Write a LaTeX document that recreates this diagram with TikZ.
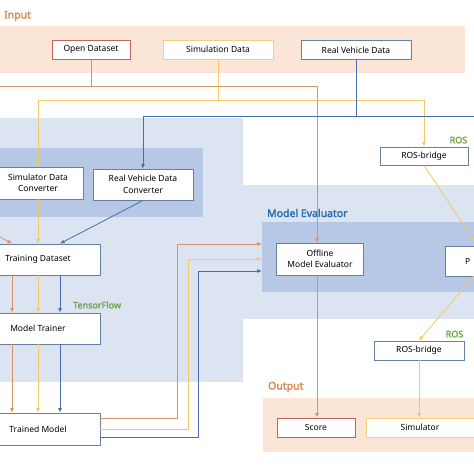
\documentclass[tikz,border=0pt]{standalone}
\usepackage{fontspec}
\setmainfont{Noto Sans}[BoldFont={Noto Sans}, BoldFeatures={FakeBold=2.5}]
\usetikzlibrary{arrows.meta, positioning}

\definecolor{bandpeach}{RGB}{250,229,214}
\definecolor{regionlight}{RGB}{220,228,242}
\definecolor{regiondark}{RGB}{182,200,230}
\definecolor{lineorange}{RGB}{214,146,106}
\definecolor{lineyellow}{RGB}{244,200,100}
\definecolor{lineblue}{RGB}{72,108,178}
\definecolor{boxred}{RGB}{196,96,96}
\definecolor{boxyellow}{RGB}{244,208,120}
\definecolor{boxblue}{RGB}{100,130,160}
\definecolor{titleorange}{RGB}{214,140,80}
\definecolor{titleblue}{RGB}{46,110,180}
\definecolor{titlegreen}{RGB}{112,168,80}

\begin{document}
\begin{tikzpicture}[x=1pt, y=-1pt, font=\fontsize{8.5}{11.5}\selectfont]
    \tikzstyle{region} = [rectangle, fill=regionlight, draw=none, inner sep=0pt]
    \tikzstyle{subregion} = [rectangle, fill=regiondark, draw=none, inner sep=0pt]
    \tikzstyle{inputband} = [rectangle, fill=bandpeach, draw=none, inner sep=0pt]
    \tikzstyle{datasource} = [rectangle, draw, fill=white, line width=0.9pt, minimum width=78pt, minimum height=19pt, text centered, inner sep=1pt]
    \tikzstyle{process} = [rectangle, draw=boxblue, fill=white, line width=0.9pt, minimum height=31pt, text centered, align=center, inner sep=1pt]
    \tikzstyle{grouptitle} = [font=\fontsize{10.5}{12}\selectfont\bfseries, anchor=west, inner sep=0pt]
    \tikzstyle{toollabel} = [font=\fontsize{9}{10}\selectfont\bfseries, text=titlegreen, inner sep=1pt]
    \tikzstyle{wire} = [line width=0.8pt]
    \tikzstyle{arrow} = [line width=0.8pt, -{Latex[length=4.5pt, width=4pt]}]

    \useasboundingbox (0,0) rectangle (474,474);
    \fill[white] (0,0) rectangle (474,474);
    \clip (0,0) rectangle (474,474);

    % Groups
    \node (trainregion) [region, minimum width=253pt, minimum height=264pt] at (116.5,250) {};
    \node (evalregion) [region, minimum width=242pt, minimum height=134pt] at (364,252) {};
    \node (convsub) [subregion, minimum width=213pt, minimum height=69pt] at (96.5,182.5) {};
    \node (evalsub) [subregion, minimum width=223pt, minimum height=70pt] at (373.5,257) {};
    \node (inband) [inputband, minimum width=470pt, minimum height=47pt] at (230,49.5) {};
    \node (outband) [inputband, minimum width=222pt, minimum height=54pt] at (374,425) {};

    \node (inputlabel) [grouptitle, text=titleorange] at (4,16) {Input};
    \node (outputlabel) [grouptitle, text=titleorange] at (268,387) {Output};
    \node (evallabel) [grouptitle, text=titleblue] at (267,213) {Model Evaluator};

    % Boxes
    \node (opendata) [datasource, draw=boxred] at (91,49.5) {Open Dataset};
    \node (simdata) [datasource, draw=boxyellow, minimum width=110pt] at (218,49.5) {Simulation Data};
    \node (realdata) [datasource, draw=boxblue, minimum width=110pt] at (356,50) {Real Vehicle Data};
    \node (simconv) [process, minimum width=90pt, minimum height=32pt] at (38,183) {Simulator Data\\Converter};
    \node (realconv) [process, minimum width=100pt] at (143,184.5) {Real Vehicle Data\\Converter};
    \node (training) [process, minimum width=124pt] at (38,259.5) {Training Dataset};
    \node (trainer) [process, minimum width=124pt] at (38,328.5) {Model Trainer};
    \node (trained) [process, minimum width=124pt, minimum height=32pt] at (38,429) {Trained Model};
    \node (offline) [process, minimum width=87pt, minimum height=32pt] at (320,259) {Offline\\Model Evaluator};
    \node (planner) [process, text width=60pt, inner xsep=20pt, align=left, minimum height=30pt] at (495,261) {P};
    \node (rostop) [process, minimum width=88pt, minimum height=18pt] at (424,156) {ROS-bridge};
    \node (rosbottom) [process, minimum width=90pt, minimum height=19pt] at (419,350.5) {ROS-bridge};
    \node (score) [datasource, draw=boxred] at (316,427.5) {Score};
    \node (simulator) [datasource, draw=boxyellow, minimum width=108pt] at (420,427.5) {Simulator};

    \node (tflabel) [toollabel, anchor=west] at (72,305) {TensorFlow};
    \node (roslabeltop) [toollabel, anchor=south east, yshift=2pt] at (rostop.north east) {ROS};
    \node (roslabelbottom) [toollabel, anchor=south east, yshift=2pt] at (rosbottom.north east) {ROS};

    \coordinate (xo) at (12,0);
    \coordinate (xb) at (60,0);
    \coordinate (xev) at (317,0);
    \path (opendata.south) ++(0,27) coordinate (osplit);
    \path (simdata.south) ++(0,41) coordinate (ysplit);
    \path (realdata.south) ++(0,56) coordinate (bsplit);
    \path ([yshift=15pt]offline.west) coordinate (evino);
    \path ([yshift=-12pt]offline.west) coordinate (evinb);

    % Arrows
    \draw [wire, lineorange] (opendata.south) -- (osplit);
    \draw [arrow, lineorange] (osplit) -| (offline.north -| xev);
    \draw [arrow, lineorange, rounded corners=8pt] (osplit) -- ++(-106,0) -- ++(0,142) -- (training.north -| xo);
    \draw [arrow, lineorange] (offline.south -| xev) -- (score.north -| xev);

    \draw [wire, lineyellow] (simdata.south) -- (ysplit);
    \draw [arrow, lineyellow] (ysplit) -| (simconv.north);
    \draw [arrow, lineyellow] (ysplit) -| (rostop.north);
    \draw [arrow, lineyellow] (simconv.south) -- (training.north);
    \draw [wire, lineyellow] (rostop.south) -- ([xshift=33pt]planner.north west);
    \draw [arrow, lineyellow] ([xshift=29pt]planner.south west) -- (rosbottom.north);
    \draw [arrow, lineyellow] (rosbottom.south) -- (rosbottom.south |- simulator.north);

    \draw [wire, lineblue] (realdata.south) -- (bsplit);
    \draw [arrow, lineblue] (bsplit) -| (realconv.north);
    \draw [arrow, lineblue] (bsplit) -| (planner.north);
    \draw [arrow, lineblue] (realconv.south) -- (training.north -| xb);

    \foreach \x/\col in {xo/lineorange, training/lineyellow, xb/lineblue} {
        \draw [arrow, \col] (training.south -| \x) -- (trainer.north -| \x);
        \draw [arrow, \col] (trainer.south -| \x) -- (trained.north -| \x);
    }

    \draw [arrow, lineorange] ([yshift=11pt]trained.east) -- ++(77,0) |- (evino -| evalsub.west);
    \draw [arrow, lineyellow] (trained.east) -- ++(88,0) |- (offline.west -| evalsub.west);
    \draw [arrow, lineblue] ([yshift=-8pt]trained.east) -- ++(98,0) |- (evinb -| evalsub.west);
\end{tikzpicture}
\end{document}
